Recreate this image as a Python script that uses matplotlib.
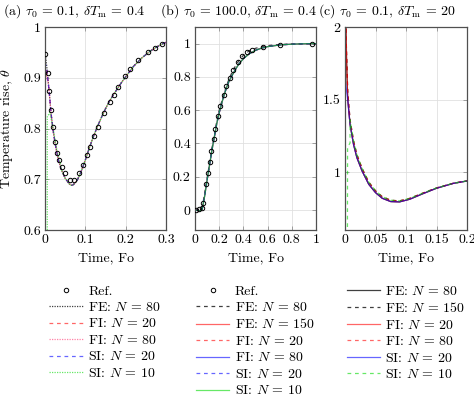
import matplotlib
matplotlib.use("Agg")
import matplotlib.pyplot as plt
import numpy as np

plt.rcParams['font.family'] = ['cmr10', 'DejaVu Serif']
plt.rcParams['mathtext.fontset'] = 'cm'
plt.rcParams['axes.formatter.use_mathtext'] = True
plt.rcParams['font.size'] = 10

# ---------------- Panel (a): tau0 = 0.1, dTm = 0.4 ----------------
a_ref_fo = [0, 0.0082, 0.0107, 0.0141, 0.019, 0.0248, 0.0305, 0.0355, 0.0414, 0.0496,
            0.062, 0.072, 0.084, 0.094, 0.103, 0.112, 0.122, 0.131, 0.146, 0.161,
            0.171, 0.182, 0.198, 0.211, 0.231, 0.256, 0.273, 0.29]
a_ref_th = [0.946, 0.909, 0.874, 0.836, 0.803, 0.774, 0.751, 0.738, 0.725, 0.712,
            0.699, 0.699, 0.712, 0.728, 0.747, 0.764, 0.785, 0.803, 0.83, 0.853,
            0.866, 0.882, 0.903, 0.918, 0.935, 0.951, 0.959, 0.967]
a_main_fo = [0.01, 0.015, 0.02, 0.025, 0.03, 0.035, 0.04, 0.05, 0.06, 0.065, 0.07, 0.08,
             0.09, 0.10, 0.11, 0.12, 0.13, 0.14, 0.15, 0.16, 0.17, 0.18, 0.19, 0.2,
             0.22, 0.24, 0.26, 0.28, 0.3]
a_main_th = [0.876, 0.83, 0.797, 0.771, 0.75, 0.733, 0.72, 0.702, 0.691, 0.688, 0.689, 0.698,
             0.716, 0.738, 0.762, 0.784, 0.804, 0.822, 0.839, 0.854, 0.867, 0.879, 0.891, 0.902,
             0.923, 0.939, 0.952, 0.962, 0.97]
# start segments (before joining the main curve)
a_fe80_fo = [0, 0, 0.004]
a_fe80_th = [0.0, 0.95, 0.925]
a_fi20_fo = [0, 0.001, 0.004]
a_fi20_th = [0.0, 0.90, 0.915]
a_fi80_fo = [0, 0.001, 0.004]
a_fi80_th = [0.0, 0.89, 0.915]
a_si20_fo = [0, 0, 0.004]
a_si20_th = [0.0, 0.93, 0.918]
a_si10_fo = [0.0055, 0.0057, 0.012, 0.02, 0.03, 0.04]
a_si10_th = [0.0, 0.823, 0.832, 0.80, 0.755, 0.726]

# ---------------- Panel (b): tau0 = 100, dTm = 0.4 ----------------
b_ref_fo = [0.005, 0.033, 0.054, 0.068, 0.092, 0.109, 0.122, 0.136, 0.155, 0.168, 0.188,
            0.209, 0.237, 0.258, 0.286, 0.318, 0.353, 0.386, 0.427, 0.468, 0.56, 0.70, 0.97]
b_ref_th = [0.0, 0.005, 0.01, 0.044, 0.156, 0.22, 0.29, 0.354, 0.424, 0.49, 0.564,
            0.624, 0.694, 0.744, 0.796, 0.844, 0.89, 0.924, 0.95, 0.964, 0.98, 0.994, 1.0]
b_fo = [0, 0.04, 0.06, 0.08, 0.1, 0.12, 0.14, 0.16, 0.18, 0.2, 0.22, 0.24, 0.26, 0.28,
        0.3, 0.33, 0.36, 0.4, 0.45, 0.5, 0.55, 0.6, 0.7, 0.8, 0.9, 1.0]
b_upper_th = [0, 0.0, 0.02, 0.10, 0.19, 0.28, 0.37, 0.445, 0.535, 0.60, 0.65, 0.70, 0.745, 0.785,
              0.818, 0.86, 0.895, 0.93, 0.958, 0.972, 0.982, 0.988, 0.995, 0.998, 0.999, 1.0]
b_lower_th = [0, -0.005, 0.005, 0.085, 0.18, 0.27, 0.36, 0.44, 0.52, 0.585, 0.64, 0.69, 0.735, 0.773,
              0.80, 0.84, 0.875, 0.91, 0.94, 0.96, 0.973, 0.982, 0.992, 0.997, 0.999, 1.0]

# ---------------- Panel (c): tau0 = 0.1, dTm = 20 ----------------
c_fo = [0.0045, 0.0083, 0.014, 0.0195, 0.028, 0.039, 0.05, 0.061, 0.075, 0.0895,
        0.106, 0.128, 0.15, 0.178, 0.2]
c_solid_th = [1.5, 1.328, 1.19, 1.099, 1.007, 0.915, 0.858, 0.819, 0.796, 0.794,
              0.812, 0.851, 0.888, 0.922, 0.938]
c_dash_th = [1.55, 1.36, 1.215, 1.12, 1.025, 0.93, 0.87, 0.83, 0.805, 0.801,
             0.818, 0.855, 0.89, 0.923, 0.938]
c_fe80_fo = [0, 0.002]
c_fe80_th = [2.6, 1.85]
c_fe150_fo = [0, 0.002]
c_fe150_th = [2.8, 1.9]
c_fi20_fo = [0, 0.0004, 0.0028]
c_fi20_th = [0.0, 2.3, 1.75]
c_fi80_fo = [0, 0.0004, 0.0028]
c_fi80_th = [0.0, 2.2, 1.78]
c_si20_fo = [0, 0]
c_si20_th = [0.0, 1.64]
c_si10_fo = [0.0038, 0.0042, 0.0083]
c_si10_th = [0.0, 1.17, 1.2]

# tick values and labels
a_xticks = [0, 0.1, 0.2, 0.3]; a_xlabels = ['0', '0.1', '0.2', '0.3']
a_yticks = [0.6, 0.7, 0.8, 0.9, 1.0]; a_ylabels = ['0.6', '0.7', '0.8', '0.9', '1']
b_xticks = [0, 0.2, 0.4, 0.6, 0.8, 1.0]; b_xlabels = ['0', '0.2', '0.4', '0.6', '0.8', '1']
b_yticks = [0, 0.2, 0.4, 0.6, 0.8, 1.0]; b_ylabels = ['0', '0.2', '0.4', '0.6', '0.8', '1']
c_xticks = [0, 0.05, 0.1, 0.15, 0.2]; c_xlabels = ['0', '0.05', '0.1', '0.15', '0.2']
c_yticks = [1.0, 1.5, 2.0]; c_ylabels = ['1', '1.5', '2']

titles = [r'(a) $\tau_0 \,=\, 0.1$, $\delta T_\mathrm{m} \,=\, 0.4$',
          r'(b) $\tau_0 \,=\, 100.0$, $\delta T_\mathrm{m} \,=\, 0.4$',
          r'(c) $\tau_0 \,=\, 0.1$, $\delta T_\mathrm{m} \,=\, 20$']
title_left_px = [3, 160, 318]

RED = (1, 0, 0, 0.6)
BLUE = (0, 0, 1, 0.6)
GREEN = (0, 0.85, 0, 0.6)
BLACK = (0, 0, 0, 0.75)
PINK = (1, 0.3, 0.5, 0.7)
DOT = (0, (1, 1))
DASH = (0, (3, 3))
LW = 0.9

fig = plt.figure(figsize=(4.74, 3.99), dpi=100)
W, H = 474, 399
boxes = [(45, 121), (195, 121), (345, 122)]
axes = []
for (x0, w) in boxes:
    ax = fig.add_axes([x0 / W, 1 - 230 / H, w / W, 203 / H])
    axes.append(ax)

def cat(pfo, pth, mfo, mth):
    return list(pfo) + list(mfo), list(pth) + list(mth)

def lab(s, n):
    return s + r': $N \,=\, ' + str(n) + '$'

# (a)
ax = axes[0]
ax.plot(a_ref_fo, a_ref_th, 'o', ms=3.2, mfc='none', mec='black', mew=0.7, label='Ref.', zorder=5)
x, y = cat(a_fe80_fo, a_fe80_th, a_main_fo, a_main_th)
ax.plot(x, y, color=BLACK, ls=DOT, lw=LW, label=lab('FE', 80))
x, y = cat(a_fi20_fo, a_fi20_th, a_main_fo, a_main_th)
ax.plot(x, y, color=RED, ls=DASH, lw=LW, label=lab('FI', 20))
x, y = cat(a_fi80_fo, a_fi80_th, a_main_fo, a_main_th)
ax.plot(x, y, color=PINK, ls=DOT, lw=LW, label=lab('FI', 80))
x, y = cat(a_si20_fo, a_si20_th, a_main_fo, a_main_th)
ax.plot(x, y, color=BLUE, ls=DASH, lw=LW, label=lab('SI', 20))
x, y = cat(a_si10_fo, a_si10_th, a_main_fo[6:], a_main_th[6:])
ax.plot(x, y, color=GREEN, ls=DOT, lw=LW, label=lab('SI', 10))
ax.set_xlim(0, 0.3); ax.set_ylim(0.6, 1.0)
ax.set_xticks(a_xticks, a_xlabels); ax.set_yticks(a_yticks, a_ylabels)
ax.set_ylabel(r'Temperature rise, $\theta$', labelpad=6)

# (b)
ax = axes[1]
ax.plot(b_ref_fo, b_ref_th, 'o', ms=3.2, mfc='none', mec='black', mew=0.7, label='Ref.', zorder=5)
ax.plot(b_fo, b_upper_th, color=BLACK, ls=DASH, lw=LW, label=lab('FE', 80))
ax.plot(b_fo, b_lower_th, color=RED, ls='-', lw=LW, label=lab('FE', 150))
ax.plot(b_fo, b_lower_th, color=RED, ls=DASH, lw=LW, label=lab('FI', 20))
ax.plot(b_fo, b_lower_th, color=BLUE, ls='-', lw=LW, label=lab('FI', 80))
ax.plot(b_fo, b_lower_th, color=BLUE, ls=DASH, lw=LW, label=lab('SI', 20))
ax.plot(b_fo, b_lower_th, color=GREEN, ls='-', lw=LW, label=lab('SI', 10))
ax.set_xlim(0, 1.0); ax.set_ylim(-0.12, 1.1)
ax.set_xticks(b_xticks, b_xlabels); ax.set_yticks(b_yticks, b_ylabels)

# (c)
ax = axes[2]
x, y = cat(c_fe80_fo, c_fe80_th, c_fo, c_solid_th)
ax.plot(x, y, color=BLACK, ls='-', lw=LW, label=lab('FE', 80))
x, y = cat(c_fe150_fo, c_fe150_th, c_fo, c_dash_th)
ax.plot(x, y, color=BLACK, ls=DASH, lw=LW, label=lab('FE', 150))
x, y = cat(c_fi20_fo, c_fi20_th, c_fo, c_solid_th)
ax.plot(x, y, color=RED, ls='-', lw=LW, label=lab('FI', 20))
x, y = cat(c_fi80_fo, c_fi80_th, c_fo, c_dash_th)
ax.plot(x, y, color=RED, ls=DASH, lw=LW, label=lab('FI', 80))
x, y = cat(c_si20_fo, c_si20_th, c_fo, c_solid_th)
ax.plot(x, y, color=BLUE, ls='-', lw=LW, label=lab('SI', 20))
x, y = cat(c_si10_fo, c_si10_th, c_fo[1:], c_dash_th[1:])
ax.plot(x, y, color=GREEN, ls=DASH, lw=LW, label=lab('SI', 10))
ax.set_xlim(0, 0.2); ax.set_ylim(0.6, 2.0)
ax.set_xticks(c_xticks, c_xlabels); ax.set_yticks(c_yticks, c_ylabels)

for ax, t, tx in zip(axes, titles, title_left_px):
    fig.text(tx / W, 1 - 11 / H, t, ha='left', va='center', fontsize=10)
    ax.set_xlabel('Time, Fo', labelpad=4)
    ax.grid(True, color='#e0e0e0', lw=0.6)
    ax.set_axisbelow(True)
    ax.tick_params(direction='in', top=True, right=True, length=3, width=0.5,
                   color='#808080', labelsize=10, pad=3)
    for s in ax.spines.values():
        s.set_color('#505050'); s.set_linewidth(0.9)
    ax.legend(loc='upper center', bbox_to_anchor=(0.5, -0.27), frameon=False,
              fontsize=10, handlelength=2.4, handletextpad=0.4, labelspacing=0.25,
              borderaxespad=0, borderpad=0)

fig.savefig('out.png', dpi=100)
